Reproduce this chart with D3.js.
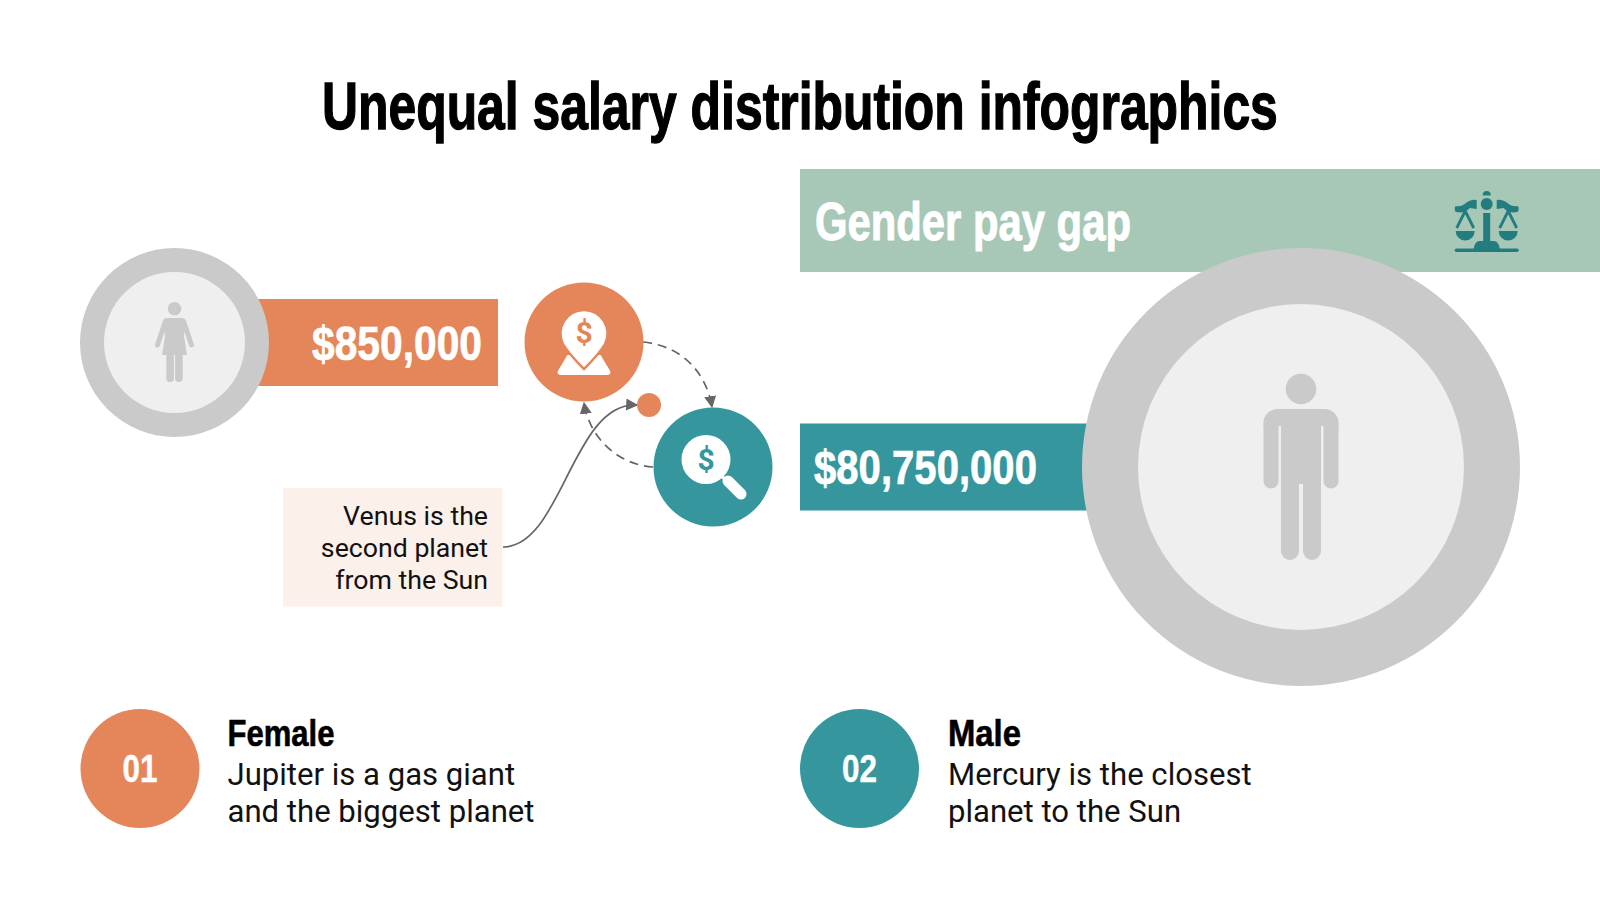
<!DOCTYPE html>
<html><head><meta charset="utf-8"><title>Unequal salary distribution infographics</title>
<script src="https://cdn.jsdelivr.net/npm/d3@7/dist/d3.min.js"></script>
<style>html,body{margin:0;padding:0;background:#fff}svg{display:block}</style></head>
<body><svg id="c" width="1600" height="900"></svg>
<script>
// Data
const titleText = "Unequal salary distribution infographics";
const bandText = "Gender pay gap";
const categories = ["Female", "Male"];
const salaries = ["$850,000", "$80,750,000"];
const indexes = ["01", "02"];
const descriptions = [["Jupiter is a gas giant", "and the biggest planet"], ["Mercury is the closest", "planet to the Sun"]];
const noteLines = ["Venus is the", "second planet", "from the Sun"];

// Encodings
const COND = "'Liberation Sans Narrow','Liberation Sans',sans-serif";
const BODY = "Roboto,sans-serif";
const color = d3.scaleOrdinal(categories, ["#e5855a", "#35979d"]);
const ringX = d3.scaleOrdinal(categories, [174.5, 1301]);
const ringY = d3.scaleOrdinal(categories, [342.5, 467]);
const ringR = d3.scaleOrdinal(categories, [94.5, 219]);
const coreR = d3.scaleOrdinal(categories, [70.5, 163]);
const barX0 = d3.scaleOrdinal(categories, [250, 800]);
const barX1 = d3.scaleOrdinal(categories, [498, 1100]);
const barTextX = d3.scaleOrdinal(categories, [312, 814]);
const barTextW = d3.scaleOrdinal(categories, [170, 223]);
const legendX = d3.scaleOrdinal(categories, [140, 859.5]);
const legendTextX = d3.scaleOrdinal(categories, [227.5, 948]);
const legendTitleW = d3.scaleOrdinal(categories, [107, 73]);

const svg = d3.select("#c");
const GREY = "#cacaca", CORE = "#efefef", ARROW = "#666666", SCALEC = "#237c80";

// Condensed heading text: measured, then squeezed horizontally to the target width.
function cond(sel, size, width) {
  sel.attr("font-family", COND).attr("font-weight", 700).attr("font-size", size);
  sel.each(function (d) {
    const el = d3.select(this), x = +el.attr("x"), y = +el.attr("y");
    const w = typeof width === "function" ? width(d) : width;
    el.attr("x", 0).attr("y", 0);
    const natural = this.getComputedTextLength();
    el.attr("transform", `translate(${x},${y}) scale(${w / natural},1)`);
  });
  return sel;
}

// Title
cond(svg.append("text").attr("x", 322).attr("y", 128.5).attr("fill", "#000")
  .attr("stroke", "#000").attr("stroke-width", 1.3).text(titleText), 66, 956);

// Band
svg.append("rect").attr("x", 800).attr("y", 169).attr("width", 800).attr("height", 103).attr("fill", "#a7c8b6");
cond(svg.append("text").attr("x", 815).attr("y", 240).attr("fill", "#fff")
  .attr("stroke", "#fff").attr("stroke-width", 1).text(bandText), 54, 316);

// Scales icon
const sc = svg.append("g").attr("transform", "translate(1486.7,0)").attr("fill", SCALEC);
sc.append("path").attr("d", "M-4,195 a4,4 0 0 1 8,0 v0.5 h-8z");
sc.append("circle").attr("cy", 204).attr("r", 6);
sc.append("rect").attr("x", -3.5).attr("y", 213).attr("width", 7).attr("height", 28);
sc.append("rect").attr("x", -32).attr("y", 248.5).attr("width", 64).attr("height", 3.5).attr("rx", 1.7);
sc.append("path").attr("d", "M-13,249 q1,-8 6,-8 h14 q5,0 6,8z");
[-1, 1].forEach(s => {
  const g = sc.append("g").attr("transform", `scale(${s},1)`);
  g.append("path").attr("d", "M10,200 L10,209 L17,208 Q20,212 26,212.5 L31,212 Q33,208 31,206 Q26,207 22,204 Q16,199 10,200z");
  g.append("path").attr("d", "M21.5,211 L13,228 M21.5,211 L30,228").attr("fill", "none").attr("stroke", SCALEC).attr("stroke-width", 2.8);
  g.append("path").attr("d", "M12,231 h19 a9.5,9.5 0 0 1 -19,0z");
});

// Bars
svg.selectAll("rect.bar").data(categories).join("rect").attr("class", "bar")
  .attr("x", barX0).attr("width", d => barX1(d) - barX0(d))
  .attr("y", d => ringY(d) - 43.5).attr("height", 87).attr("fill", color);
cond(svg.selectAll("text.val").data(categories).join("text").attr("class", "val")
  .attr("x", barTextX).attr("y", d => ringY(d) + 17).attr("fill", "#fff")
  .attr("stroke", "#fff").attr("stroke-width", .7)
  .text((d, i) => salaries[i]), 48, barTextW);

// Rings
svg.selectAll("circle.ring").data(categories).join("circle").attr("class", "ring")
  .attr("cx", ringX).attr("cy", ringY).attr("r", ringR).attr("fill", GREY);
svg.selectAll("circle.core").data(categories).join("circle").attr("class", "core")
  .attr("cx", ringX).attr("cy", ringY).attr("r", coreR).attr("fill", CORE);

// Female figure
const fg = svg.append("g").attr("transform", `translate(${ringX("Female")},0)`).attr("fill", GREY);
fg.append("circle").attr("cy", 308.7).attr("r", 6.8);
fg.append("path").attr("d", "M-7,318 h14 q3,0 4,3 L9.5,336 L12.5,355 h-25 L-9.5,336 L-11,321 q1,-3 4,-3z");
fg.append("path").attr("d", "M-9,321 L-17,345 M9,321 L17,345").attr("stroke", GREY).attr("stroke-width", 5).attr("stroke-linecap", "round").attr("fill", "none");
fg.append("rect").attr("x", -8.2).attr("y", 350).attr("width", 7.6).attr("height", 32).attr("rx", 3.8);
fg.append("rect").attr("x", .6).attr("y", 350).attr("width", 7.6).attr("height", 32).attr("rx", 3.8);

// Male figure
const mg = svg.append("g").attr("transform", `translate(${ringX("Male")},${ringY("Male")})`).attr("fill", GREY);
mg.append("circle").attr("cy", -78).attr("r", 15.3);
mg.append("path").attr("d", "M-37.5,-41 v-3 a14,14 0 0 1 14,-14 h47 a14,14 0 0 1 14,14 v3z");
mg.append("rect").attr("x", -37.5).attr("y", -50).attr("width", 15).attr("height", 71.5).attr("rx", 7.5);
mg.append("rect").attr("x", 22.5).attr("y", -50).attr("width", 15).attr("height", 71.5).attr("rx", 7.5);
mg.append("rect").attr("x", -20).attr("y", -58).attr("width", 40).attr("height", 75);
mg.append("rect").attr("x", -20).attr("y", -10).attr("width", 18).attr("height", 103).attr("rx", 9);
mg.append("rect").attr("x", 2).attr("y", -10).attr("width", 18).attr("height", 103).attr("rx", 9);

// Connector arrows
const defs = svg.append("defs");
defs.append("marker").attr("id", "ah").attr("viewBox", "0 0 10 10").attr("refX", 9).attr("refY", 5)
  .attr("markerUnits", "userSpaceOnUse").attr("markerWidth", 12).attr("markerHeight", 12).attr("orient", "auto")
  .append("path").attr("d", "M0,0 L10,5 L0,10z").attr("fill", ARROW);
const link = (d, dash) => svg.append("path").attr("d", d).attr("fill", "none").attr("stroke", ARROW)
  .attr("stroke-width", 1.7).attr("stroke-dasharray", dash).attr("marker-end", "url(#ah)");
link("M643,342 C 682,346 706,372 712,407", "9 6");
link("M653,467 C 620,465 590,440 584,403", "9 6");

// Note
svg.append("rect").attr("x", 283).attr("y", 488).attr("width", 219.5).attr("height", 118.5).attr("fill", "#fbf0ea");
svg.selectAll("text.note").data(noteLines).join("text").attr("class", "note")
  .attr("x", 488).attr("y", (d, i) => 524.5 + i * 32).attr("text-anchor", "end")
  .attr("font-family", BODY).attr("font-size", 26.7).attr("fill", "#111").text(d => d);
link("M503,547 C 562,547 572,402 637,405", null);
svg.append("circle").attr("cx", 649).attr("cy", 405).attr("r", 12).attr("fill", color("Female"));

// Location icon
const pin = svg.append("g").attr("transform", `translate(584,342)`);
pin.append("circle").attr("r", 59.5).attr("fill", color("Female"));
pin.append("path").attr("d", "M-16,14 L-25,29 Q-27,32 -22,32 H22 Q27,32 25,29 L16,14z").attr("fill", "#fff")
  .attr("stroke", "#fff").attr("stroke-width", 2).attr("stroke-linejoin", "round");
pin.append("path").attr("d", "M-21,2 A23.5,23.5 0 1 1 21,2 C16,11 8,19 0,27 C-8,19 -16,11 -21,2z")
  .attr("fill", "#fff").attr("stroke", color("Female")).attr("stroke-width", 2.5);
pin.append("text").attr("y", 1).attr("text-anchor", "middle").attr("font-family", BODY).attr("font-weight", 700)
  .attr("font-size", 30).attr("fill", color("Female")).text("$");

// Search icon
const mag = svg.append("g").attr("transform", `translate(713,467)`);
mag.append("circle").attr("r", 59.5).attr("fill", color("Male"));
mag.append("circle").attr("cx", -7).attr("cy", -7.5).attr("r", 24.5).attr("fill", "#fff");
mag.append("line").attr("x1", 7).attr("y1", 8).attr("x2", 14).attr("y2", 14).attr("stroke", "#fff").attr("stroke-width", 3);
mag.append("line").attr("x1", 15).attr("y1", 14).attr("x2", 28).attr("y2", 27).attr("stroke", "#fff").attr("stroke-width", 11).attr("stroke-linecap", "round");
mag.append("text").attr("x", -7).attr("y", 2.5).attr("text-anchor", "middle").attr("font-family", BODY).attr("font-weight", 700)
  .attr("font-size", 30).attr("fill", color("Male")).text("$");

// Legend
svg.selectAll("circle.leg").data(categories).join("circle").attr("class", "leg")
  .attr("cx", legendX).attr("cy", 768.5).attr("r", 59.5).attr("fill", color);
cond(svg.selectAll("text.idx").data(categories).join("text").attr("class", "idx")
  .attr("x", d => legendX(d) - 17.5).attr("y", 782).attr("fill", "#fff")
  .attr("stroke", "#fff").attr("stroke-width", .4)
  .text((d, i) => indexes[i]), 38, 35);
cond(svg.selectAll("text.legt").data(categories).join("text").attr("class", "legt")
  .attr("x", legendTextX).attr("y", 746).attr("fill", "#000")
  .attr("stroke", "#000").attr("stroke-width", .6)
  .text(d => d), 37, legendTitleW);
categories.forEach((c, i) => {
  svg.selectAll("text.d" + i).data(descriptions[i]).join("text").attr("class", "d" + i)
    .attr("x", legendTextX(c)).attr("y", (d, j) => 785 + j * 36.5)
    .attr("font-family", BODY).attr("font-size", 31.1).attr("fill", "#111").text(d => d);
});
</script></body></html>
